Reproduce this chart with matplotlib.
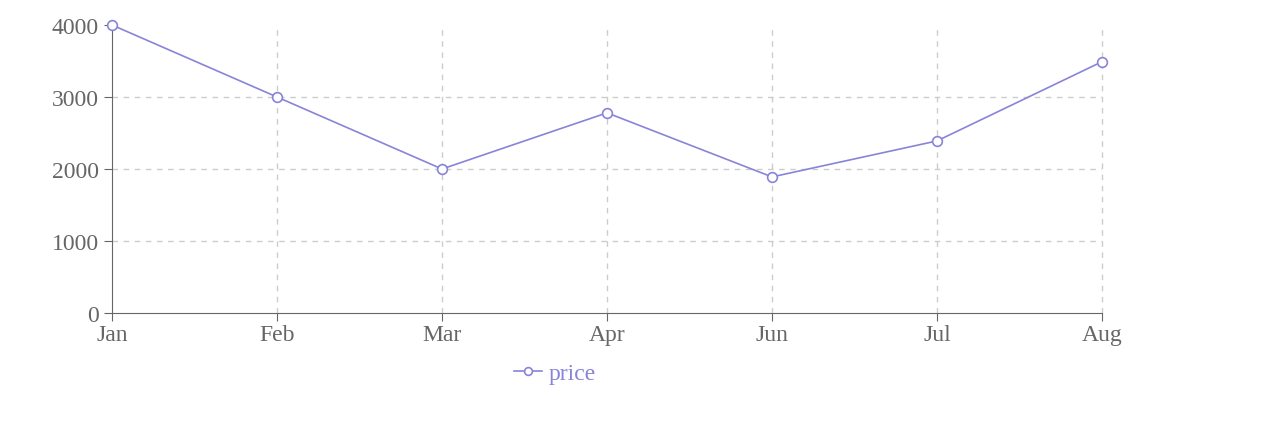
import matplotlib.pyplot as plt

months = ['Jan', 'Feb', 'Mar', 'Apr', 'Jun', 'Jul', 'Aug']
price = [4000, 3000, 2000, 2780, 1890, 2390, 3490]

plt.rcParams['font.family'] = ['Liberation Serif', 'DejaVu Serif']
W, H = 1266, 435
fig = plt.figure(figsize=(W / 100, H / 100), dpi=100)
ax = fig.add_axes([112 / W, 1 - 314 / H, (1102 - 112) / W, (314 - 26) / H])

x = range(len(months))
ax.plot(x, price, color='#8884d8', lw=1.2, marker='o', ms=7,
        mfc='white', mec='#8884d8', mew=1.2, label='price', clip_on=False, zorder=3)

ax.set_xlim(0, len(months) - 1)
ax.set_ylim(0, 4000)
ax.set_xticks(list(x))
ax.set_xticklabels(months)
ax.set_yticks([0, 1000, 2000, 3000, 4000])
for v in [1000, 2000, 3000]:
    ax.axhline(v, color='#cccccc', ls=(0, (4, 4)), lw=1, zorder=1)
for i in x[1:]:
    ax.axvline(i, color='#cccccc', ls=(0, (4, 4)), lw=1, zorder=1, clip_on=False)

for s in ['top', 'right']:
    ax.spines[s].set_visible(False)
for s in ['left', 'bottom']:
    ax.spines[s].set_color('#666666')
ax.tick_params(colors='#666666', labelsize=17, length=6, color='#666666')
ax.tick_params(axis='x', pad=2)

leg = fig.legend(loc='center', bbox_to_anchor=(555 / W, 1 - 374 / H), frameon=False,
                 fontsize=17, handlelength=1.2, handletextpad=0.3, markerscale=0.8)
for t in leg.get_texts():
    t.set_color('#8884d8')

fig.savefig('out.png', dpi=100)
